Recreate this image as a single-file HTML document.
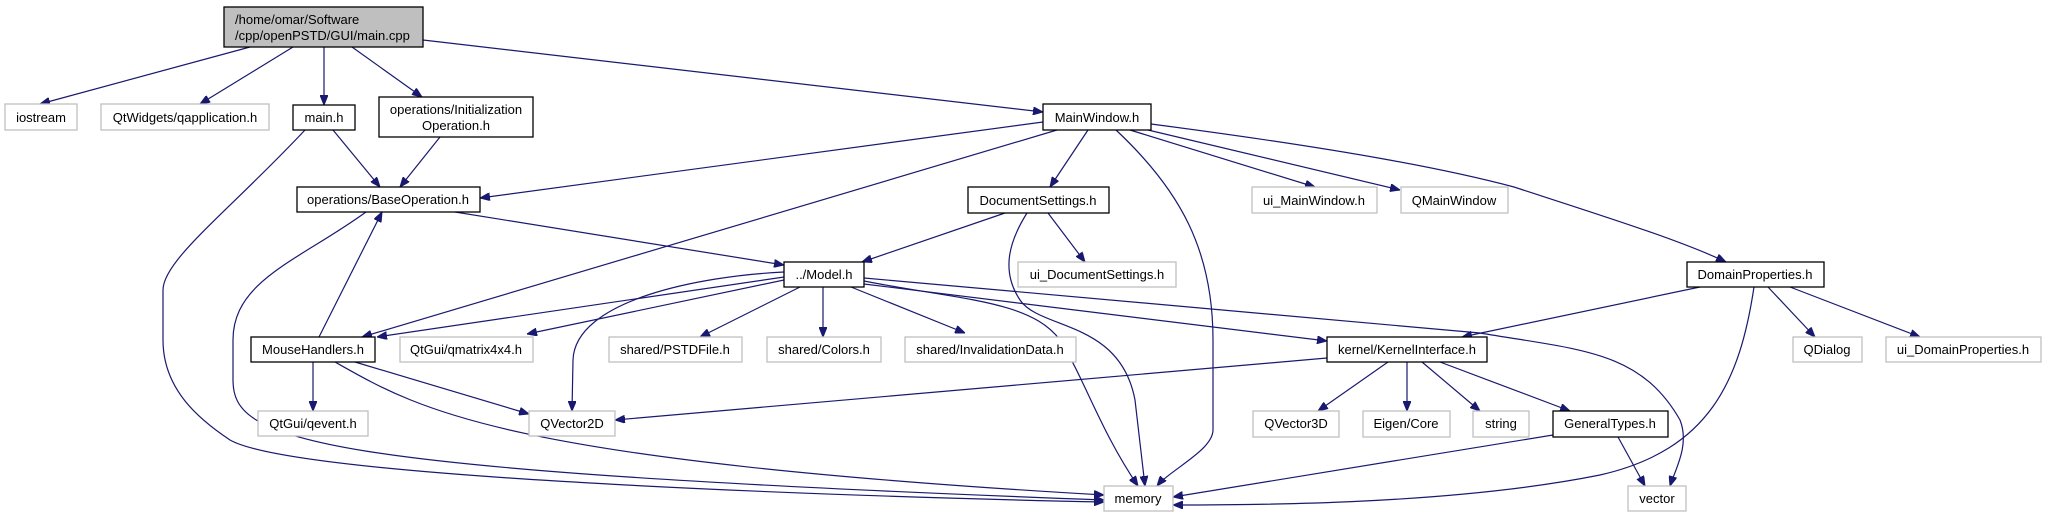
<!DOCTYPE html>
<html><head><meta charset="utf-8"><style>
html,body{margin:0;padding:0;background:#fff;}
svg{display:block;}
text{font-family:"Liberation Sans",sans-serif;font-size:13px;fill:#000;text-anchor:middle;}
.b{fill:#fff;stroke:#000;stroke-width:1.3;}
.g{fill:#fff;stroke:#bfbfbf;stroke-width:1.3;}
.e{fill:none;stroke:#191970;stroke-width:1.2;}
</style></head><body>
<svg width="2047" height="517" viewBox="0 0 2047 517" xmlns="http://www.w3.org/2000/svg">
<defs><marker id="a" viewBox="0 0 10 8" refX="10" refY="4" markerWidth="10" markerHeight="8" markerUnits="userSpaceOnUse" orient="auto"><path d="M0,0 L10,4 L0,8 z" fill="#191970" stroke="#191970"/></marker></defs>
<g class="e" marker-end="url(#a)">
<path d="M250,47 L40,104"/>
<path d="M293,47 L200,104"/>
<path d="M324,47 L324,105"/>
<path d="M352,47 L422,97"/>
<path d="M423,40 L1043,112"/>
<path d="M333,130 L380,187"/>
<path d="M305,130 C230,210 163,260 163,290 L163,340 C163,390 200,420 230,440 C300,480 900,498 1104,502"/>
<path d="M440,137 L400,187"/>
<path d="M1043,122 L480,198"/>
<path d="M1057,130 L362,337"/>
<path d="M1088,130 L1050,187"/>
<path d="M1116,130 C1180,190 1213,250 1213,340 L1213,430 C1213,450 1170,470 1157,486"/>
<path d="M1130,130 L1315,187"/>
<path d="M1148,130 L1400,190"/>
<path d="M1151,124 C1350,150 1450,170 1514,187 C1600,215 1680,240 1726,262"/>
<path d="M1005,213 L862,262"/>
<path d="M1048,213 L1085,262"/>
<path d="M1027,213 C1010,240 1000,270 1020,300 C1040,330 1120,320 1135,400 L1145,486"/>
<path d="M455,212 L784,265"/>
<path d="M366,212 C300,260 233,280 233,340 L233,380 C233,440 300,470 1104,500"/>
<path d="M319,337 L382,212"/>
<path d="M313,362 L313,411"/>
<path d="M355,362 L529,414"/>
<path d="M335,362 C420,410 500,460 1104,495"/>
<path d="M784,277 L377,337"/>
<path d="M784,280 L527,334"/>
<path d="M784,272 C700,276 575,300 573,360 L572,411"/>
<path d="M800,287 L700,337"/>
<path d="M823,287 L823,337"/>
<path d="M851,287 L965,333"/>
<path d="M864,281 C960,300 1030,300 1060,340 C1085,380 1100,430 1138,486"/>
<path d="M864,284 L1327,341"/>
<path d="M864,278 L1480,333 C1580,350 1640,350 1680,420 C1690,445 1675,470 1670,486"/>
<path d="M1327,358 L615,420"/>
<path d="M1388,362 L1318,411"/>
<path d="M1407,362 L1407,411"/>
<path d="M1422,362 L1480,411"/>
<path d="M1440,362 L1570,411"/>
<path d="M1553,435 L1173,497"/>
<path d="M1618,437 L1645,486"/>
<path d="M1700,287 L1462,337"/>
<path d="M1768,287 L1815,337"/>
<path d="M1790,287 L1920,337"/>
<path d="M1754,287 C1740,380 1710,450 1600,475 C1450,505 1250,505 1173,505"/>
</g>
<rect x="224" y="7" width="199" height="40" fill="#bfbfbf" stroke="#000" stroke-width="1.3"/>
<text x="235" y="24" style="text-anchor:start">/home/omar/Software</text>
<text x="235" y="40" style="text-anchor:start">/cpp/openPSTD/GUI/main.cpp</text>
<rect class="g" x="5" y="104" width="72" height="26"/><text x="41" y="122">iostream</text>
<rect class="g" x="101" y="104" width="168" height="26"/><text x="185" y="122">QtWidgets/qapplication.h</text>
<rect class="b" x="293" y="105" width="62" height="25"/><text x="324" y="122">main.h</text>
<rect class="b" x="379" y="97" width="154" height="40"/><text x="456" y="114">operations/Initialization</text><text x="456" y="130">Operation.h</text>
<rect class="b" x="297" y="187" width="183" height="25"/><text x="388" y="204">operations/BaseOperation.h</text>
<rect class="b" x="1043" y="104" width="108" height="26"/><text x="1097" y="122">MainWindow.h</text>
<rect class="b" x="968" y="187" width="141" height="26"/><text x="1038" y="205">DocumentSettings.h</text>
<rect class="g" x="1252" y="187" width="125" height="26"/><text x="1314" y="205">ui_MainWindow.h</text>
<rect class="g" x="1401" y="187" width="107" height="26"/><text x="1454" y="205">QMainWindow</text>
<rect class="b" x="784" y="262" width="80" height="25"/><text x="824" y="279">../Model.h</text>
<rect class="g" x="1018" y="262" width="158" height="25"/><text x="1097" y="279">ui_DocumentSettings.h</text>
<rect class="b" x="1687" y="262" width="137" height="25"/><text x="1755" y="279">DomainProperties.h</text>
<rect class="b" x="251" y="337" width="124" height="25"/><text x="313" y="354">MouseHandlers.h</text>
<rect class="g" x="400" y="337" width="133" height="25"/><text x="466" y="354">QtGui/qmatrix4x4.h</text>
<rect class="g" x="609" y="337" width="133" height="25"/><text x="675" y="354">shared/PSTDFile.h</text>
<rect class="g" x="767" y="337" width="114" height="25"/><text x="824" y="354">shared/Colors.h</text>
<rect class="g" x="905" y="337" width="171" height="25"/><text x="990" y="354">shared/InvalidationData.h</text>
<rect class="b" x="1327" y="337" width="160" height="25"/><text x="1407" y="354">kernel/KernelInterface.h</text>
<rect class="g" x="1793" y="337" width="69" height="25"/><text x="1827" y="354">QDialog</text>
<rect class="g" x="1886" y="337" width="155" height="25"/><text x="1963" y="354">ui_DomainProperties.h</text>
<rect class="g" x="258" y="411" width="110" height="25"/><text x="313" y="428">QtGui/qevent.h</text>
<rect class="g" x="529" y="411" width="86" height="25"/><text x="572" y="428">QVector2D</text>
<rect class="g" x="1253" y="411" width="86" height="26"/><text x="1296" y="428">QVector3D</text>
<rect class="g" x="1363" y="411" width="87" height="26"/><text x="1406" y="428">Eigen/Core</text>
<rect class="g" x="1473" y="411" width="56" height="26"/><text x="1501" y="428">string</text>
<rect class="b" x="1553" y="411" width="115" height="26"/><text x="1610" y="428">GeneralTypes.h</text>
<rect class="g" x="1104" y="486" width="69" height="25"/><text x="1138" y="503">memory</text>
<rect class="g" x="1628" y="486" width="58" height="25"/><text x="1657" y="503">vector</text>
</svg>
</body></html>
